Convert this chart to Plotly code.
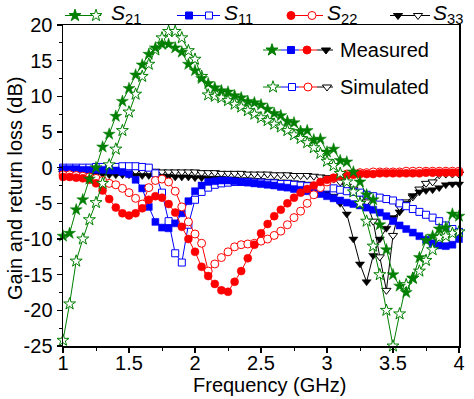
import plotly.graph_objects as go

# ---------------- data ----------------
freq = [1.00, 1.05, 1.10, 1.15, 1.20, 1.25, 1.30, 1.35, 1.40, 1.45,
        1.50, 1.55, 1.60, 1.65, 1.70, 1.75, 1.80, 1.85, 1.90, 1.95,
        2.00, 2.05, 2.10, 2.15, 2.20, 2.25, 2.30, 2.35, 2.40, 2.45,
        2.50, 2.55, 2.60, 2.65, 2.70, 2.75, 2.80, 2.85, 2.90, 2.95,
        3.00, 3.05, 3.10, 3.15, 3.20, 3.25, 3.30, 3.35, 3.40, 3.45,
        3.50, 3.55, 3.60, 3.65, 3.70, 3.75, 3.80, 3.85, 3.90, 3.95, 4.00]

s21_meas = [-9.6, -9.2, -5.9, -4.5, -1.6, 0.0, 2.9, 4.7, 7.2, 9.3,
            11.1, 13.0, 14.4, 15.9, 16.8, 17.3, 17.3, 16.8, 16.2, 14.5,
            13.6, 12.5, 11.8, 11.2, 10.8, 10.6, 10.1, 9.8, 9.3, 9.1,
            8.8, 8.2, 7.6, 7.3, 6.5, 6.3, 5.1, 5.2, 3.9, 4.0,
            2.2, 2.6, 1.0, 0.8, -0.6, -2.0, -3.8, -4.5, -8.0, -11.5,
            -15.0, -16.6, -17.5, -15.5, -12.6, -10.2, -9.6, -8.6, -8.4, -6.5, -6.8]

s21_sim = [-24.2, -19.1, -13.1, -10.0, -7.3, -4.9, -2.2, 0.4, 2.6, 5.2,
           7.8, 10.3, 12.8, 14.5, 16.5, 18.2, 19.1, 19.1, 18.2, 16.4,
           15.2, 12.8, 10.2, 10.0, 9.8, 9.4, 8.9, 8.5, 8.0, 7.5,
           7.0, 6.6, 6.1, 5.7, 5.2, 4.6, 4.1, 3.5, 2.8, 2.0,
           0.9, 0.3, -0.8, -2.0, -3.4, -5.0, -7.5, -11.0, -15.0, -20.0,
           -25.0, -20.5, -16.4, -15.5, -14.5, -13.0, -11.5, -9.8, -9.6, -9.2, -9.0]

s11_meas = [-0.2, -0.2, -0.2, -0.3, -0.3, -0.3, -0.3, -0.4, -0.4, -0.6,
            -0.9, -1.7, -2.9, -5.5, -7.6, -8.4, -8.5, -7.8, -6.4, -4.7,
            -3.3, -2.5, -2.0, -1.9, -1.8, -1.8, -1.9, -2.0, -2.1, -2.2,
            -2.3, -2.4, -2.5, -2.7, -2.8, -3.0, -3.1, -3.3, -3.5, -3.7,
            -4.0, -4.3, -4.6, -4.9, -5.1, -5.3, -5.6, -5.9, -6.3, -6.8,
            -7.5, -8.1, -8.6, -9.1, -9.6, -10.1, -10.6, -10.9, -11.0, -10.8, -10.0]

s11_sim = [0.0, 0.0, 0.0, 0.0, 0.0, 0.1, 0.1, 0.1, 0.1, 0.2,
           0.2, 0.2, 0.1, 0.0, -0.8, -3.5, -7.5, -12.0, -13.3, -8.0,
           -4.5, -3.4, -2.8, -2.4, -2.2, -2.1, -2.0, -2.0, -2.0, -2.1,
           -2.1, -2.2, -2.2, -2.3, -2.3, -2.4, -2.5, -2.6, -2.7, -2.8,
           -2.8, -2.9, -3.1, -3.3, -3.4, -3.5, -3.8, -4.0, -4.2, -4.4,
           -4.6, -5.0, -5.4, -5.8, -6.2, -6.6, -7.0, -7.5, -8.1, -8.6, -9.0]

s22_meas = [-1.3, -1.3, -1.4, -1.5, -1.7, -2.2, -3.2, -4.4, -5.6, -6.4,
            -6.7, -6.4, -5.7, -4.5, -4.0, -4.2, -5.1, -6.3, -8.3, -10.0,
            -11.8, -13.9, -15.2, -16.3, -17.2, -17.4, -16.0, -14.5, -12.7, -10.8,
            -9.2, -7.9, -6.8, -5.9, -5.0, -4.2, -3.5, -3.0, -2.5, -2.0,
            -1.7, -1.4, -1.2, -1.1, -1.0, -0.9, -0.9, -0.9, -0.8, -0.8,
            -0.8, -0.8, -0.8, -0.8, -0.8, -0.7, -0.7, -0.7, -0.7, -0.7, -0.7]

s22_sim = [-1.0, -1.0, -1.1, -1.2, -1.3, -1.5, -1.8, -2.2, -2.4, -2.9,
           -3.5, -4.3, -5.1, -2.8, -1.8, -1.6, -2.0, -3.3, -5.5, -7.6,
           -9.3, -10.6, -14.5, -13.5, -12.6, -11.8, -11.1, -10.8, -10.7, -10.6,
           -10.3, -10.0, -9.5, -8.9, -8.0, -7.0, -6.1, -5.0, -3.8, -2.8,
           -2.0, -1.5, -1.1, -0.9, -0.8, -0.7, -0.7, -0.6, -0.6, -0.6,
           -0.6, -0.6, -0.5, -0.5, -0.5, -0.5, -0.5, -0.5, -0.5, -0.5, -0.5]

s33_meas = [-0.8, -0.8, -0.8, -0.9, -0.9, -0.9, -0.9, -1.0, -1.0, -1.0,
            -1.0, -1.1, -1.1, -1.1, -1.2, -1.2, -1.2, -1.3, -1.3, -1.3,
            -1.4, -1.4, -1.5, -1.5, -1.5, -1.6, -1.6, -1.7, -1.7, -1.8,
            -1.8, -1.9, -1.9, -2.0, -2.0, -2.1, -2.2, -2.3, -2.6, -3.0,
            -3.4, -4.0, -5.0, -6.5, -10.0, -13.5, -16.0, -12.3, -10.0, -8.5,
            -7.0, -6.2, -5.0, -3.9, -3.4, -3.2, -3.1, -2.8, -2.4, -2.3, -2.3]

s33_sim = [-0.5, -0.5, -0.5, -0.5, -0.5, -0.5, -0.5, -0.5, -0.5, -0.5,
           -0.5, -0.5, -0.5, -0.5, -0.5, -0.6, -0.6, -0.6, -0.6, -0.6,
           -0.6, -0.7, -0.7, -0.7, -0.8, -0.8, -0.8, -0.8, -0.9, -0.9,
           -0.9, -0.9, -1.0, -1.0, -1.0, -1.1, -1.1, -1.1, -1.2, -1.3,
           -1.4, -1.6, -2.0, -2.6, -3.0, -3.6, -4.8, -7.5, -12.5, -17.2,
           -9.5, -5.5, -4.8, -4.1, -3.0, -2.2, -2.0, -1.0, -0.9, -0.9, -0.9]

x_ticks = [1, 1.5, 2, 2.5, 3, 3.5, 4]
x_ticktext = ["1", "1.5", "2", "2.5", "3", "3.5", "4"]
y_ticks = [-25, -20, -15, -10, -5, 0, 5, 10, 15, 20]
y_ticktext = ["-25", "-20", "-15", "-10", "-5", "0", "5", "10", "15", "20"]

series_names = ["S<sub>21</sub>", "S<sub>11</sub>", "S<sub>22</sub>", "S<sub>33</sub>"]
legend_words = ["Measured", "Simulated"]

# ---------------- style ----------------
GREEN = "#007F00"
BLUE = "#0000FF"
RED = "#FF0000"
BLACK = "#000000"
FONT = "Arial, Liberation Sans, sans-serif"

W, H = 474, 399
PX_L, PX_R, PX_T, PX_B = 63, 459, 25, 346   # plot-area box in pixels

styles = [
    (GREEN, "star", 9),
    (BLUE, "square", 7),
    (RED, "circle", 8),
    (BLACK, "triangle-down", 8),
]

meas_data = [s21_meas, s11_meas, s22_meas, s33_meas]
sim_data = [s21_sim, s11_sim, s22_sim, s33_sim]

fig = go.Figure()

draw_order = [3, 1, 2, 0]
for k in draw_order:
    col, sym, sz = styles[k]
    fig.add_trace(go.Scatter(
        x=freq, y=sim_data[k], mode="lines+markers",
        line=dict(color=col, width=1),
        marker=dict(symbol=sym, size=sz, color="white",
                    line=dict(color=col, width=1)),
        cliponaxis=False, showlegend=False, hoverinfo="skip"))
    fig.add_trace(go.Scatter(
        x=freq, y=meas_data[k], mode="lines+markers",
        line=dict(color=col, width=1),
        marker=dict(symbol=sym, size=sz, color=col,
                    line=dict(color=col, width=0.5)),
        cliponaxis=False, showlegend=False, hoverinfo="skip"))

# ---------------- legend graphics on a full-figure pixel overlay ----------------
annotations = []


def leg_line(x0, x1, y, col):
    fig.add_trace(go.Scatter(x=[x0, x1], y=[y, y], xaxis="x2", yaxis="y2", mode="lines",
                             line=dict(color=col, width=1), showlegend=False,
                             hoverinfo="skip", cliponaxis=False))


def leg_marker(x, y, sym, sz, col, fill):
    fig.add_trace(go.Scatter(x=[x], y=[y], xaxis="x2", yaxis="y2", mode="markers",
                             marker=dict(symbol=sym, size=sz, color=fill,
                                         line=dict(color=col, width=1)),
                             showlegend=False, hoverinfo="skip", cliponaxis=False))


top_y = 15.5
top_entries = [  # line x0, x1, filled marker x, open marker x, text x
    (65, 101, 75, 96, 109),
    (177, 220, 189, 209, 222),
    (287, 323, 291, 312, 325),
    (390, 430, 398, 418, 431),
]
for k, (x0, x1, mf, mo, tx) in enumerate(top_entries):
    col, sym, sz = styles[k]
    leg_line(x0, x1, top_y, col)
    leg_marker(mf, top_y, sym, sz, col, col)
    leg_marker(mo, top_y, sym, sz, col, "white")
    name = series_names[k].replace("S<sub>", "<i>S</i><sub>")
    annotations.append(dict(x=tx, y=13.5, xref="x2", yref="y2",
                            text=name, showarrow=False, xanchor="left", yanchor="middle",
                            font=dict(family=FONT, size=21, color="black")))

inner_rows = [(50, [272, 291, 307, 326], True), (87, [273, 292, 308, 327], False)]
seg_bounds = [263, 281, 299, 317, 333]
for (yy, mxs, filled), word in zip(inner_rows, legend_words):
    for k in range(4):
        col, sym, sz = styles[k]
        leg_line(seg_bounds[k], seg_bounds[k + 1], yy, col)
    for k in range(4):
        col, sym, sz = styles[k]
        leg_marker(mxs[k], yy, sym, sz, col, col if filled else "white")
    annotations.append(dict(x=338, y=yy, xref="x2", yref="y2",
                            text=word, showarrow=False, xanchor="left", yanchor="middle",
                            font=dict(family=FONT, size=20, color="black")))

# axis titles
annotations.append(dict(x=269, y=385, xref="x2", yref="y2",
                        text="Frequency (GHz)", showarrow=False,
                        xanchor="center", yanchor="middle",
                        font=dict(family=FONT, size=20, color="black")))
annotations.append(dict(x=15, y=189, xref="x2", yref="y2",
                        text="Gain and return loss (dB)", showarrow=False, textangle=-90,
                        xanchor="center", yanchor="middle",
                        font=dict(family=FONT, size=20, color="black")))

axis_common = dict(showgrid=False, zeroline=False, showline=True, linecolor="black",
                   linewidth=1.5, mirror=True, ticks="outside", ticklen=5, tickwidth=1.2,
                   tickcolor="black", automargin=False,
                   tickfont=dict(family=FONT, size=20, color="black"))

fig.update_layout(
    width=W, height=H, autosize=False,
    margin=dict(l=0, r=0, t=0, b=0, pad=0),
    paper_bgcolor="white", plot_bgcolor="rgba(0,0,0,0)",
    showlegend=False,
    xaxis=dict(domain=[PX_L / W, PX_R / W], anchor="y",
               range=[1, 4], tickmode="array", tickvals=x_ticks, ticktext=x_ticktext,
               ticklabelstandoff=-7,
               minor=dict(tickmode="linear", tick0=1, dtick=0.25, ticks="outside",
                          ticklen=3, tickcolor="black", tickwidth=1),
               **axis_common),
    yaxis=dict(domain=[(H - PX_B) / H, (H - PX_T) / H], anchor="x",
               range=[-25, 20], tickmode="array", tickvals=y_ticks, ticktext=y_ticktext,
               minor=dict(tickmode="linear", tick0=-25, dtick=2.5, ticks="outside",
                          ticklen=3, tickcolor="black", tickwidth=1),
               **axis_common),
    xaxis2=dict(domain=[0, 1], anchor="y2", range=[0, W], visible=False, fixedrange=True),
    yaxis2=dict(domain=[0, 1], anchor="x2", range=[H, 0], visible=False, fixedrange=True),
    annotations=annotations,
)

fig.write_html("out.html", config={"displayModeBar": False, "staticPlot": True},
               post_script="document.body.style.margin='0px';")
